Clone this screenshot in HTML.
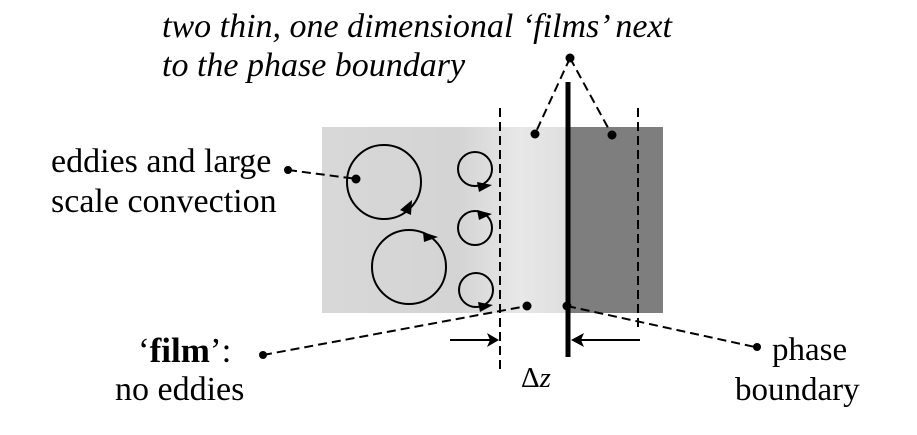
<!DOCTYPE html>
<html><head><meta charset="utf-8"><style>
html,body{margin:0;padding:0;background:#fff;}
body{position:relative;width:917px;height:435px;overflow:hidden;}
svg{display:block;position:absolute;left:0;top:0;}
.t{position:absolute;font-family:"Liberation Serif","Times New Roman",serif;color:#000;white-space:nowrap;line-height:1;}
</style></head><body>
<svg width="917" height="435" viewBox="0 0 917 435" xmlns="http://www.w3.org/2000/svg">
<defs>
<linearGradient id="lg" x1="0" x2="1" y1="0" y2="0">
<stop offset="0" stop-color="#d8d8d8"/>
<stop offset="0.55" stop-color="#d4d4d4"/>
<stop offset="0.8" stop-color="#e8e8e8"/>
<stop offset="1" stop-color="#dedede"/>
</linearGradient>
</defs>
<rect x="322" y="127" width="248" height="186" fill="url(#lg)"/>
<rect x="570" y="127" width="93" height="186" fill="#7e7e7e"/>
<g fill="none" stroke="#000" stroke-width="2">
<circle cx="384" cy="182" r="37"/>
<circle cx="409" cy="267" r="37"/>
<circle cx="475" cy="169" r="17"/>
<circle cx="475" cy="228" r="17"/>
<circle cx="476" cy="290" r="17"/>
</g>
<g fill="#000">
<polygon points="400,210 412,200 411,215"/>
<polygon points="423,232 438,237 424,242"/>
<polygon points="477,182 492,185 479,192"/>
<polygon points="477,210 492,214 479,220"/>
<polygon points="478,302 493,305 480,312"/>
</g>
<g stroke="#000" stroke-width="2" stroke-dasharray="9,5" fill="none">
<line x1="500" y1="108" x2="500" y2="372"/>
<line x1="638" y1="108" x2="638" y2="330"/>
<line x1="288" y1="170" x2="357" y2="179"/>
<line x1="570" y1="58" x2="535" y2="134"/>
<line x1="570" y1="58" x2="612" y2="135"/>
<line x1="263" y1="355" x2="527" y2="306"/>
<line x1="567" y1="306" x2="755" y2="347"/>
</g>
<line x1="568" y1="82" x2="568" y2="357" stroke="#000" stroke-width="5"/>
<g stroke="#000" stroke-width="2">
<line x1="450" y1="340" x2="495" y2="340"/>
<line x1="580" y1="340" x2="640" y2="340"/>
</g>
<polygon points="499,340 487,333 490,340 487,347" fill="#000"/>
<polygon points="571,340 584,333 581,340 584,347" fill="#000"/>
<g fill="#000">
<circle cx="570" cy="58" r="4.5"/>
<circle cx="535" cy="134" r="4.5"/>
<circle cx="612" cy="135" r="4.5"/>
<circle cx="356" cy="179" r="4.5"/>
<circle cx="288" cy="170" r="4"/>
<circle cx="527" cy="306" r="4.5"/>
<circle cx="567" cy="306" r="4.5"/>
<circle cx="263" cy="355" r="4"/>
<circle cx="757" cy="347" r="4"/>
</g>
</svg>
<div class="t" style="left:162px;top:10px;font-size:34px;font-style:italic;">two thin, one dimensional ‘films’ next</div>
<div class="t" style="left:162px;top:49px;font-size:34px;font-style:italic;">to the phase boundary</div>
<div class="t" style="left:51px;top:145px;font-size:34px;">eddies and large</div>
<div class="t" style="left:51px;top:185px;font-size:34px;">scale convection</div>
<div class="t" style="left:138px;top:333px;font-size:35px;">‘<b>film</b>’:</div>
<div class="t" style="left:115px;top:373px;font-size:34px;">no eddies</div>
<div class="t" style="left:521px;top:364px;font-size:29px;">Δ<i>z</i></div>
<div class="t" style="left:772px;top:334px;font-size:33px;">phase</div>
<div class="t" style="left:735px;top:374px;font-size:33px;">boundary</div>
</body></html>
